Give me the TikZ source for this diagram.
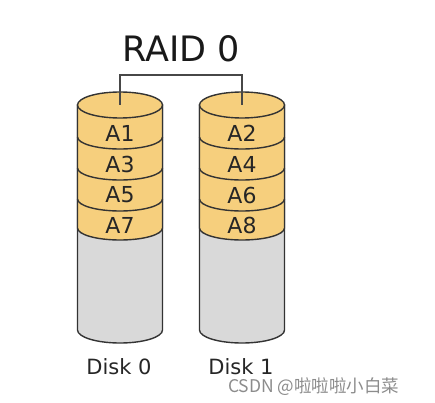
\documentclass[tikz,border=0pt]{standalone}
\usepackage{fontspec}
\setmainfont{DejaVu Sans}
\newfontfamily\cjkfont{Noto Sans CJK SC}
\definecolor{diskyellow}{RGB}{246,207,125}
\definecolor{diskgray}{RGB}{217,217,217}
\definecolor{edgecol}{RGB}{51,51,51}
\definecolor{wmgray}{RGB}{140,140,140}
\begin{document}
\begin{tikzpicture}[x=1pt,y=1pt,
  outline/.style={draw=edgecol,line width=1.4pt},
  blocklbl/.style={font=\fontsize{22}{22}\selectfont,inner sep=0pt,text=black!85},
  disklbl/.style={font=\fontsize{21}{21}\selectfont,inner sep=0pt,anchor=base,text=black!85},
  titlelbl/.style={font=\fontsize{35}{35}\selectfont,inner sep=0pt,anchor=base,text=black!90},
  wire/.style={draw=edgecol!90,line width=1.3pt}]
\useasboundingbox (0,0) rectangle (435,402);
\fill[white] (0,0) rectangle (435,402);
\foreach \cx in {120,242}{
  \filldraw[fill=diskgray,outline] (\cx-42.5,297) -- (\cx-42.5,72) arc (180:360:42.5 and 13) -- (\cx+42.5,297) -- cycle;
  \filldraw[fill=diskyellow,outline] (\cx-42.5,297) -- (\cx-42.5,174) arc (180:360:42.5 and 12) -- (\cx+42.5,297) -- cycle;
  \foreach \yy in {265,234,203}{
    \draw[outline] (\cx-42.5,\yy) arc (180:360:42.5 and 12);
  }
  \filldraw[fill=diskyellow,outline] (\cx,297) ellipse (42.5 and 13);
}
\coordinate (t0) at (120,297);
\coordinate (t1) at (242,297);
\coordinate (mid) at (181,327);
\draw[wire] (t0) |- (mid) -| (t1);
\node[titlelbl] (title) at (181,340) {RAID 0};
\node[blocklbl] (a1) at (120,268.5) {A1};
\node[blocklbl] (a3) at (120,237.5) {A3};
\node[blocklbl] (a5) at (120,207) {A5};
\node[blocklbl] (a7) at (120,177) {A7};
\node[blocklbl] (a2) at (242,268.5) {A2};
\node[blocklbl] (a4) at (242,237.5) {A4};
\node[blocklbl] (a6) at (242,207) {A6};
\node[blocklbl] (a8) at (242,177) {A8};
\node[disklbl] (d0) at (119,28) {Disk 0};
\node[disklbl] (d1) at (241,28) {Disk 1};
\node[anchor=base west,inner sep=0pt,text=wmgray,font=\cjkfont\fontsize{17.5}{17.5}\selectfont] (wm) at (228,9.5) {CSDN @啦啦啦小白菜};
\end{tikzpicture}
\end{document}
